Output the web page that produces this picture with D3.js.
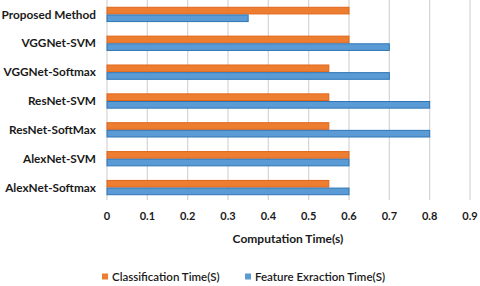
<!DOCTYPE html>
<html>
<head>
<meta charset="utf-8">
<script src="https://cdn.jsdelivr.net/npm/d3@7"></script>
<style>
  body { margin: 0; background: #fff; }
  text { font-family: Lato, "Open Sans", sans-serif; font-weight: bold; fill: #1a1a1a; }
</style>
</head>
<body>
<div id="chart"></div>
<script>
// chart data
var methods = ["Proposed Method", "VGGNet-SVM", "VGGNet-Softmax", "ResNet-SVM",
               "ResNet-SoftMax", "AlexNet-SVM", "AlexNet-Softmax"];
var classificationTime = [0.6, 0.6, 0.55, 0.55, 0.55, 0.6, 0.55];
var featureTime = [0.35, 0.7, 0.7, 0.8, 0.8, 0.6, 0.6];
var xTicks = [0, 0.1, 0.2, 0.3, 0.4, 0.5, 0.6, 0.7, 0.8, 0.9];
var seriesNames = ["Classification Time(S)", "Feature Exraction Time(S)"];
var colors = ["#ED7D31", "#5B9BD5"];
var strokes = ["#E0661A", "#2E75B6"];

var width = 480, height = 286;
var margin = {top: 0, left: 107, right: 10};
var plotBottom = 202;

var svg = d3.select("#chart")
  .append("svg")
  .attr("width", width)
  .attr("height", height);

var x = d3.scaleLinear()
  .domain([0, 0.9])
  .range([margin.left, 470]);

var y = d3.scaleBand()
  .domain(methods)
  .range([margin.top, plotBottom])
  .paddingInner(0.47)
  .paddingOuter(0.235);

var inner = d3.scaleBand()
  .domain([0, 1])
  .range([0, y.bandwidth()]);

// gridlines
svg.append("g")
  .selectAll("line")
  .data(xTicks)
  .enter()
  .append("line")
    .attr("x1", function(d) { return x(d); })
    .attr("x2", function(d) { return x(d); })
    .attr("y1", 0)
    .attr("y2", plotBottom - 2)
    .attr("stroke", "#d4d4d4")
    .attr("stroke-width", 1.2);

// x tick labels
svg.append("g")
  .selectAll("text")
  .data(xTicks)
  .enter()
  .append("text")
    .attr("x", function(d) { return x(d); })
    .attr("y", 220)
    .attr("text-anchor", "middle")
    .style("font-size", "11px")
    .text(function(d) { return d3.format("")(d); });

// category labels
svg.append("g")
  .selectAll("text")
  .data(methods)
  .enter()
  .append("text")
    .attr("x", 96)
    .attr("y", function(d) { return y(d) + y.bandwidth() / 2; })
    .attr("dy", "0.35em")
    .attr("text-anchor", "end")
    .style("font-size", "11.8px")
    .text(function(d) { return d; });

// bars
var series = [classificationTime, featureTime];
series.forEach(function(vals, si) {
  svg.append("g")
    .selectAll("rect")
    .data(vals)
    .enter()
    .append("rect")
      .attr("x", x(0))
      .attr("y", function(d, i) { return y(methods[i]) + inner(si) + 0.5; })
      .attr("width", function(d) { return x(d) - x(0); })
      .attr("height", inner.bandwidth() - 1)
      .attr("fill", colors[si])
      .attr("stroke", strokes[si])
      .attr("stroke-width", 1);
});

// axis title
svg.append("text")
  .attr("x", 288)
  .attr("y", 243)
  .attr("text-anchor", "middle")
  .style("font-size", "12px")
  .text("Computation Time(s)");

// legend
var legendX = [102, 245];
var legend = svg.append("g")
  .selectAll("g")
  .data(seriesNames)
  .enter()
  .append("g")
    .attr("transform", function(d, i) { return "translate(" + legendX[i] + ",277)"; });

legend.append("rect")
  .attr("x", 0)
  .attr("y", -3.5)
  .attr("width", 6)
  .attr("height", 6)
  .attr("fill", function(d, i) { return colors[i]; });

legend.append("text")
  .attr("x", 10)
  .attr("y", 0)
  .attr("dy", "0.35em")
  .style("font-size", "11.5px")
  .style("font-weight", "600")
  .text(function(d) { return d; });
</script>
</body>
</html>
